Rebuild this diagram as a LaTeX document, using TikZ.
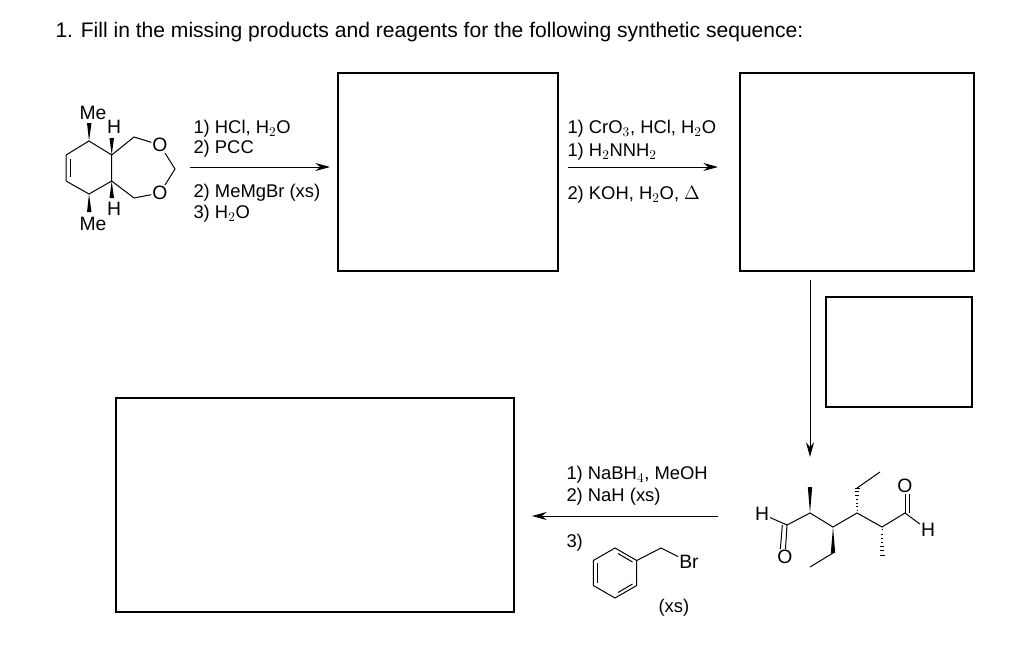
\documentclass[tikz,border=0pt]{standalone}
\usepackage{fontspec}
\setmainfont{Liberation Sans}
\usetikzlibrary{arrows.meta,calc}
\begin{document}
\begin{tikzpicture}[x=0.75pt,y=-0.75pt,line width=0.75pt,
  box/.style={draw,line width=0.8pt},
  lab/.style={anchor=west,inner sep=0,font=\fontsize{13.8}{16}\selectfont},
  atom/.style={inner sep=0.5pt,fill=white,font=\fontsize{14.5}{16}\selectfont},
  arr/.style={-{Stealth[length=11pt,width=6pt]},line width=0.75pt},
  wedge/.style={fill=black}]
\useasboundingbox (0,0) rectangle (1024,646);
\node[anchor=west,inner sep=0,font=\fontsize{15.8}{18}\selectfont] (title) at (55,32) {1. Fill in the missing products and reagents for the following synthetic sequence:};
% boxes
\draw[box] (338,73) rectangle (558,271);
\draw[box] (740,73) rectangle (974,271);
\draw[box] (826,297) rectangle (972,407);
\draw[box] (116,398) rectangle (514,612);
% arrows
\coordinate (a1s) at (190,167); \coordinate (a1e) at (330,167);
\coordinate (a2s) at (568,167); \coordinate (a2e) at (718,167);
\coordinate (a3s) at (810,280); \coordinate (a3e) at (810,457);
\coordinate (a4s) at (718,516); \coordinate (a4e) at (532,516);
\draw[arr] (a1s) -- (a1e);
\draw[arr] (a2s) -- (a2e);
\draw[arr] (a3s) -- (a3e);
\draw[arr] (a4s) -- (a4e);
% reagents
\node[lab] (r1) at (193,129) {1) HCl, H$_2$O};
\node[lab] (r2) at (193,149) {2) PCC};
\node[lab] (r3) at (193,193) {2) MeMgBr (xs)};
\node[lab] (r4) at (193,214) {3) H$_2$O};
\node[lab] (s1) at (567,129) {1) CrO$_3$, HCl, H$_2$O};
\node[lab] (s2) at (567,152) {1) H$_2$NNH$_2$};
\node[lab] (s3) at (567,195) {2) KOH, H$_2$O, $\Delta$};
\node[lab] (t1) at (566,475) {1) NaBH$_4$, MeOH};
\node[lab] (t2) at (566,497) {2) NaH (xs)};
\node[lab] (t3) at (566,543) {3)};
\node[lab] (t4) at (658,608) {(xs)};
% starting material
\coordinate (c1) at (89,141); \coordinate (c2) at (111.7,155);
\coordinate (c3) at (111.7,181); \coordinate (c4) at (89,194);
\coordinate (c5) at (66,181); \coordinate (c6) at (66,155);
\draw (c1)--(c2)--(c3)--(c4)--(c5)--(c6)--cycle;
\draw ($(c5)!0.15!(c6)+(4,0)$) -- ($(c6)!0.15!(c5)+(4,0)$);
\fill[wedge] (c1) -- (87,123) -- (91.5,123) -- cycle;
\fill[wedge] (c4) -- (87,212) -- (91.5,212) -- cycle;
\fill[wedge] (c2) -- (109.5,138) -- (114,138) -- cycle;
\fill[wedge] (c3) -- (109.5,198) -- (114,198) -- cycle;
\node[atom,fill=none] (me1) at (93,113) {Me};
\node[atom,fill=none] (me2) at (93,224) {Me};
\node[atom,fill=none] (h1) at (114,127) {H};
\node[atom,fill=none] (h2) at (114,209) {H};
\coordinate (m1) at (134,137); \coordinate (m2) at (134,198); \coordinate (m3) at (175,169);
\node[atom] (o1) at (160,145) {O};
\node[atom] (o2) at (160,193) {O};
\draw (c2)--(m1)--(o1)--(m3)--(o2)--(m2)--(c3);
% product molecule
\coordinate (d1) at (787,525); \coordinate (d2) at (810,513); \coordinate (d3) at (833,527);
\coordinate (d4) at (857,513); \coordinate (d5) at (882,527); \coordinate (d6) at (905,513);
\coordinate (e1) at (833,553); \coordinate (e2) at (810,567);
\coordinate (f1) at (857,488); \coordinate (f2) at (880,472);
\node[atom] (hl) at (762,514) {H};
\node[atom] (ol) at (785,557) {O};
\node[atom] (or) at (905,486) {O};
\node[atom] (hr) at (928,530) {H};
\draw (hl)--(d1);
\draw (d1)--(d2)--(d3)--(d4)--(d5)--(d6)--(hr);
\draw (d1)--(ol); \draw ([xshift=-3.5]d1)--([xshift=-3.5]ol.north);
\draw (d6)--(or); \draw ([xshift=3.5]d6)--([xshift=3.5]or.south);
\fill[wedge] (d2) -- (807.8,487) -- (812.2,487) -- cycle;
\fill[wedge] (d3) -- (830.8,553) -- (835.2,553) -- cycle;
\draw (e1)--(e2);
\foreach \t in {0.1,0.25,...,1.0} {\draw[line width=0.6pt] ($(d4)!\t!(f1)+(-2.5*\t,0)$) -- ($(d4)!\t!(f1)+(2.5*\t,0)$);}
\draw (f1)--(f2);
\foreach \t in {0.1,0.25,...,1.0} {\draw[line width=0.6pt] ($(d5)!\t!(882,555)+(-2.5*\t,0)$) -- ($(d5)!\t!(882,555)+(2.5*\t,0)$);}
% benzyl bromide
\draw (615,548)--(636.7,560.5)--(636.7,585.5)--(615,598)--(593.3,585.5)--(593.3,560.5)--cycle;
\draw (618,553.5)--(632.5,562); \draw (632.5,584)--(618,592.5); \draw (597.5,563)--(597.5,583);
\coordinate (ch2) at (661,548);
\node[atom] (br) at (689,562) {Br};
\draw (636.7,560.5)--(ch2)--(br);
\end{tikzpicture}
\end{document}
